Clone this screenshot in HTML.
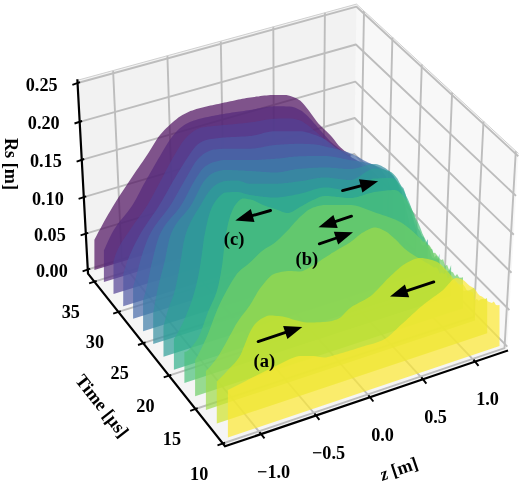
<!DOCTYPE html>
<html lang="en"><head><meta charset="utf-8"><title>Rs vs z and time</title>
<style>html,body{margin:0;padding:0;background:#fff}body{width:520px;height:481px;overflow:hidden}</style></head>
<body>
<svg width="520" height="481" viewBox="0 0 520 481" style="display:block" font-family="'Liberation Serif', 'DejaVu Serif', serif" font-size="18.2px" fill="#000">
<rect width="520" height="481" fill="#fff"/>
<polygon points="507.0,350.8 353.6,192.8 356.5,4.1 518.5,153.5" fill="#f2f2f2" fill-opacity="0.55"/>
<polygon points="88.0,273.6 353.6,192.8 356.5,4.1 77.4,80.3" fill="#e6e6e6" fill-opacity="0.5"/>
<polygon points="225.0,446.3 507.0,350.8 353.6,192.8 88.0,273.6" fill="#ececec" fill-opacity="0.5"/>
<g fill="none" stroke="#bdbdbd" stroke-width="1.9" stroke-linejoin="round">
<polyline points="261.1,434.1 121.9,263.3 113.1,70.6"/>
<polyline points="316.0,415.5 173.5,247.6 167.4,55.7"/>
<polyline points="370.0,397.2 224.3,232.1 220.8,41.2"/>
<polyline points="423.0,379.3 274.2,216.9 273.3,26.8"/>
<polyline points="475.1,361.6 323.4,202.0 324.9,12.7"/>
<polyline points="222.7,443.5 504.5,348.2 515.8,151.1"/>
<polyline points="195.4,409.0 473.9,316.8 483.5,121.2"/>
<polyline points="168.9,375.6 444.3,286.2 452.1,92.3"/>
<polyline points="143.2,343.2 415.6,256.7 421.8,64.3"/>
<polyline points="118.4,311.9 387.7,228.0 392.4,37.2"/>
<polyline points="94.3,281.6 360.7,200.1 364.0,11.0"/>
<polyline points="87.8,269.5 353.6,188.9 507.3,346.7"/>
<polyline points="85.8,233.7 354.2,153.8 509.4,310.1"/>
<polyline points="83.8,197.1 354.7,118.0 511.5,272.8"/>
<polyline points="81.8,159.8 355.3,81.6 513.8,234.7"/>
<polyline points="79.7,121.8 355.9,44.5 516.0,195.9"/>
<polyline points="77.6,83.0 356.5,6.7 518.3,156.2"/>
</g>
<g fill="none" stroke="#d0d0d0" stroke-width="1">
<polyline points="77.4,80.3 356.5,4.1 518.5,153.5"/>
</g>
<g fill-opacity="0.70" stroke="none">
<polygon points="94.4,270.0 94.4,239.7 96.4,235.9 98.4,232.1 100.4,228.4 102.4,224.7 104.4,221.1 106.4,217.6 108.4,214.1 110.4,210.7 112.4,207.3 114.4,204.0 116.4,200.8 118.4,197.6 120.4,194.5 122.4,191.5 124.4,188.4 126.4,185.5 128.4,182.5 130.4,179.5 132.4,176.5 134.4,173.5 136.4,170.6 138.4,167.7 140.4,164.8 142.4,161.9 144.4,158.9 146.4,156.0 148.4,152.9 150.4,149.7 152.4,146.4 154.4,143.2 156.4,140.0 158.4,137.1 160.4,134.6 162.4,132.2 164.4,130.1 166.4,128.1 168.4,126.2 170.4,124.3 172.4,122.5 174.4,120.8 176.4,119.2 178.4,117.6 180.4,116.3 182.4,115.1 184.4,113.9 186.4,112.9 188.4,112.0 190.4,111.1 192.4,110.4 194.4,109.7 196.4,109.1 198.4,108.6 200.4,108.0 202.4,107.5 204.4,107.0 206.4,106.5 208.4,106.1 210.4,105.6 212.4,105.2 214.4,104.7 216.4,104.3 218.4,103.9 220.4,103.5 222.4,103.1 224.4,102.6 226.4,102.2 228.4,101.8 230.4,101.3 232.4,100.9 234.4,100.4 236.4,100.0 238.4,99.6 240.4,99.2 242.4,98.8 244.4,98.4 246.4,98.0 248.4,97.7 250.4,97.5 252.4,97.2 254.4,96.9 256.4,96.6 258.4,96.4 260.4,96.1 262.4,95.8 264.4,95.6 266.4,95.4 268.4,95.3 270.4,95.1 272.4,95.0 274.4,95.0 276.4,95.0 278.4,95.0 280.4,95.0 282.4,95.0 284.4,95.0 286.4,95.1 288.4,95.5 290.4,96.1 292.4,96.7 294.4,97.4 296.4,98.3 298.4,99.4 300.4,100.8 302.4,102.7 304.4,105.0 306.4,107.4 308.4,110.0 310.4,112.8 312.4,115.5 314.4,118.3 316.4,121.0 318.4,123.4 320.4,125.5 322.4,127.5 324.4,129.4 326.4,131.3 328.4,133.3 330.4,135.3 332.4,137.4 334.4,140.0 336.4,142.7 338.4,145.3 340.4,147.3 342.4,149.1 344.4,150.7 346.4,152.1 348.4,153.3 350.4,154.2 350.5,154.2 350.5,192.2" fill="#4e1060"/>
<polygon points="103.9,282.0 103.9,250.5 105.9,245.9 107.9,241.4 109.9,237.2 111.9,233.3 113.9,229.8 115.9,226.7 117.9,223.8 119.9,221.2 121.9,218.8 123.9,216.4 125.9,214.0 127.9,211.5 129.9,208.8 131.9,206.0 133.9,202.8 135.9,199.3 137.9,195.5 139.9,191.7 141.9,187.8 143.9,184.1 145.9,180.4 147.9,176.9 149.9,173.4 151.9,169.9 153.9,166.4 155.9,163.0 157.9,159.6 159.9,156.2 161.9,152.8 163.9,149.3 165.9,145.9 167.9,142.7 169.9,139.7 171.9,137.1 173.9,134.6 175.9,132.2 177.9,130.1 179.9,128.2 181.9,126.7 183.9,125.3 185.9,124.1 187.9,123.0 189.9,122.1 191.9,121.2 193.9,120.5 195.9,119.9 197.9,119.3 199.9,118.7 201.9,118.2 203.9,117.8 205.9,117.3 207.9,116.9 209.9,116.5 211.9,116.1 213.9,115.7 215.9,115.3 217.9,115.0 219.9,114.6 221.9,114.3 223.9,113.9 225.9,113.6 227.9,113.3 229.9,113.0 231.9,112.6 233.9,112.3 235.9,112.1 237.9,111.8 239.9,111.5 241.9,111.2 243.9,110.9 245.9,110.6 247.9,110.3 249.9,110.0 251.9,109.7 253.9,109.3 255.9,109.0 257.9,108.6 259.9,108.2 261.9,107.8 263.9,107.4 265.9,107.1 267.9,106.8 269.9,106.5 271.9,106.4 273.9,106.3 275.9,106.3 277.9,106.3 279.9,106.3 281.9,106.3 283.9,106.3 285.9,106.4 287.9,106.4 289.9,106.5 291.9,106.7 293.9,107.3 295.9,108.0 297.9,109.0 299.9,109.9 301.9,111.1 303.9,112.7 305.9,114.5 307.9,116.3 309.9,118.4 311.9,120.6 313.9,122.9 315.9,125.1 317.9,127.4 319.9,129.7 321.9,132.0 323.9,134.3 325.9,136.6 327.9,138.8 329.9,140.9 331.9,142.7 333.9,144.5 335.9,146.1 337.9,147.7 339.9,149.3 341.9,150.8 343.9,152.2 345.9,153.6 347.9,155.0 349.9,156.3 351.9,157.7 353.9,158.9 355.9,160.2 357.9,161.4 359.9,162.5 361.1,163.2 361.1,203.2" fill="#54297c"/>
<polygon points="113.5,294.0 113.5,261.5 115.5,254.7 117.5,250.1 119.5,246.1 121.5,242.6 123.5,239.5 125.5,236.6 127.5,233.7 129.5,230.8 131.5,227.7 133.5,224.8 135.5,222.0 137.5,219.3 139.5,216.6 141.5,213.9 143.5,211.1 145.5,208.1 147.5,205.0 149.5,201.6 151.5,198.1 153.5,194.3 155.5,190.5 157.5,186.7 159.5,182.9 161.5,179.2 163.5,175.4 165.5,171.6 167.5,167.8 169.5,164.0 171.5,160.3 173.5,156.8 175.5,153.5 177.5,150.0 179.5,146.7 181.5,143.6 183.5,140.8 185.5,138.4 187.5,136.3 189.5,134.4 191.5,132.7 193.5,131.3 195.5,130.1 197.5,129.1 199.5,128.2 201.5,127.6 203.5,127.2 205.5,126.9 207.5,126.6 209.5,126.4 211.5,126.2 213.5,126.0 215.5,125.8 217.5,125.7 219.5,125.5 221.5,125.3 223.5,125.1 225.5,124.9 227.5,124.7 229.5,124.6 231.5,124.4 233.5,124.2 235.5,124.0 237.5,123.8 239.5,123.6 241.5,123.4 243.5,123.2 245.5,123.0 247.5,122.8 249.5,122.6 251.5,122.3 253.5,122.0 255.5,121.7 257.5,121.3 259.5,120.9 261.5,120.5 263.5,120.2 265.5,119.8 267.5,119.5 269.5,119.2 271.5,119.0 273.5,118.8 275.5,118.7 277.5,118.7 279.5,118.6 281.5,118.6 283.5,118.6 285.5,118.5 287.5,118.5 289.5,118.5 291.5,118.6 293.5,118.8 295.5,119.2 297.5,119.8 299.5,120.3 301.5,121.1 303.5,122.3 305.5,123.7 307.5,125.1 309.5,126.6 311.5,128.2 313.5,129.9 315.5,131.6 317.5,133.3 319.5,135.0 321.5,136.8 323.5,138.6 325.5,140.5 327.5,142.5 329.5,144.7 331.5,146.8 333.5,148.7 335.5,150.4 337.5,151.8 339.5,153.1 341.5,154.2 343.5,155.4 345.5,156.4 347.5,157.6 349.5,158.7 351.5,159.9 353.5,161.1 355.5,162.3 357.5,163.5 359.5,164.7 361.5,166.0 363.5,167.2 365.5,168.4 367.5,169.6 369.5,170.8 371.5,172.1 371.9,172.3 371.9,214.3" fill="#534194"/>
<polygon points="123.2,306.3 123.3,274.0 125.3,267.2 127.3,261.3 129.3,256.3 131.3,251.7 133.3,247.3 135.3,243.3 137.3,239.5 139.3,235.8 141.3,232.3 143.3,229.0 145.3,225.9 147.3,222.9 149.3,220.0 151.3,217.2 153.3,214.3 155.3,211.4 157.3,208.4 159.3,205.2 161.3,201.9 163.3,198.5 165.3,194.9 167.3,191.4 169.3,187.8 171.3,184.3 173.3,180.8 175.3,177.5 177.3,174.1 179.3,170.8 181.3,167.5 183.3,164.3 185.3,161.1 187.3,158.1 189.3,155.1 191.3,152.1 193.3,149.2 195.3,146.7 197.3,144.8 199.3,143.3 201.3,142.0 203.3,141.0 205.3,140.2 207.3,139.7 209.3,139.3 211.3,139.0 213.3,138.7 215.3,138.4 217.3,138.2 219.3,138.0 221.3,137.8 223.3,137.6 225.3,137.5 227.3,137.3 229.3,137.2 231.3,137.1 233.3,137.0 235.3,136.9 237.3,136.8 239.3,136.7 241.3,136.6 243.3,136.5 245.3,136.4 247.3,136.2 249.3,136.1 251.3,135.9 253.3,135.6 255.3,135.2 257.3,134.7 259.3,134.2 261.3,133.7 263.3,133.1 265.3,132.6 267.3,132.2 269.3,131.8 271.3,131.5 273.3,131.3 275.3,131.2 277.3,131.2 279.3,131.2 281.3,131.2 283.3,131.2 285.3,131.2 287.3,131.2 289.3,131.2 291.3,131.2 293.3,131.2 295.3,131.2 297.3,131.2 299.3,131.2 301.3,131.3 303.3,131.6 305.3,132.0 307.3,132.5 309.3,133.1 311.3,133.8 313.3,134.4 315.3,135.1 317.3,135.8 319.3,136.7 321.3,137.6 323.3,138.6 325.3,139.6 327.3,140.9 329.3,142.4 331.3,144.0 333.3,145.7 335.3,147.2 337.3,148.6 339.3,150.1 341.3,151.5 343.3,152.9 345.3,154.2 347.3,155.3 349.3,156.3 351.3,157.3 353.3,158.3 355.3,159.3 357.3,160.4 359.3,161.5 361.3,162.8 363.3,164.2 365.3,165.7 367.3,167.2 369.3,168.8 371.3,170.5 373.3,172.2 375.3,174.1 377.3,175.9 379.3,177.9 381.3,179.9 382.8,181.5 382.8,225.5" fill="#4e57a3"/>
<polygon points="133.1,318.7 133.1,287.0 135.1,280.1 137.1,272.9 139.1,265.2 141.1,257.9 143.1,251.6 145.1,245.8 147.1,240.5 149.1,236.0 151.1,232.2 153.1,228.8 155.1,225.7 157.1,222.9 159.1,220.3 161.1,217.8 163.1,215.3 165.1,212.7 167.1,210.1 169.1,207.2 171.1,204.2 173.1,200.9 175.1,197.4 177.1,193.9 179.1,190.3 181.1,186.7 183.1,183.2 185.1,179.8 187.1,176.3 189.1,172.7 191.1,169.2 193.1,165.7 195.1,162.6 197.1,160.0 199.1,157.8 201.1,156.0 203.1,154.3 205.1,153.0 207.1,151.9 209.1,151.0 211.1,150.2 213.1,149.6 215.1,149.4 217.1,149.2 219.1,149.0 221.1,148.9 223.1,148.8 225.1,148.8 227.1,148.8 229.1,148.8 231.1,148.8 233.1,148.8 235.1,148.8 237.1,148.8 239.1,148.8 241.1,148.8 243.1,148.8 245.1,148.8 247.1,148.8 249.1,148.8 251.1,148.7 253.1,148.6 255.1,148.4 257.1,148.1 259.1,147.8 261.1,147.4 263.1,147.0 265.1,146.6 267.1,146.2 269.1,145.8 271.1,145.5 273.1,145.2 275.1,145.0 277.1,144.8 279.1,144.7 281.1,144.5 283.1,144.4 285.1,144.3 287.1,144.2 289.1,144.1 291.1,144.0 293.1,143.9 295.1,143.8 297.1,143.8 299.1,143.8 301.1,143.8 303.1,143.8 305.1,143.9 307.1,143.9 309.1,144.1 311.1,144.2 313.1,144.3 315.1,144.5 317.1,144.8 319.1,145.1 321.1,145.6 323.1,146.1 325.1,146.5 327.1,147.0 329.1,147.4 331.1,147.8 333.1,148.3 335.1,148.8 337.1,149.3 339.1,149.8 341.1,150.3 343.1,150.8 345.1,151.4 347.1,152.0 349.1,152.7 351.1,153.4 353.1,154.4 355.1,155.4 357.1,156.5 359.1,157.6 361.1,158.8 363.1,160.0 365.1,161.1 367.1,162.1 369.1,163.0 371.1,163.8 373.1,164.8 375.1,165.8 377.1,166.9 379.1,168.3 381.1,170.0 383.1,172.4 385.1,175.3 387.1,178.8 389.1,182.6 391.1,186.8 393.1,191.3 393.8,192.9 393.8,236.9" fill="#466aa8"/>
<polygon points="143.1,331.2 143.1,300.0 145.1,293.3 147.1,285.2 149.1,275.5 151.1,265.8 153.1,257.4 155.1,249.3 157.1,241.9 159.1,236.1 161.1,231.9 163.1,228.3 165.1,225.2 167.1,222.5 169.1,220.0 171.1,217.7 173.1,215.5 175.1,213.2 177.1,210.8 179.1,208.2 181.1,205.2 183.1,201.9 185.1,198.2 187.1,194.4 189.1,190.5 191.1,186.7 193.1,183.1 195.1,179.8 197.1,176.6 199.1,173.5 201.1,170.6 203.1,168.3 205.1,166.6 207.1,165.2 209.1,164.0 211.1,163.0 213.1,162.3 215.1,161.7 217.1,161.2 219.1,160.7 221.1,160.3 223.1,160.1 225.1,160.0 227.1,160.0 229.1,160.0 231.1,160.0 233.1,160.0 235.1,160.0 237.1,160.0 239.1,160.0 241.1,160.0 243.1,160.0 245.1,160.0 247.1,160.0 249.1,160.0 251.1,160.0 253.1,160.0 255.1,159.9 257.1,159.9 259.1,159.8 261.1,159.7 263.1,159.5 265.1,159.4 267.1,159.3 269.1,159.2 271.1,159.0 273.1,158.9 275.1,158.7 277.1,158.6 279.1,158.4 281.1,158.2 283.1,157.9 285.1,157.7 287.1,157.4 289.1,157.1 291.1,156.9 293.1,156.7 295.1,156.5 297.1,156.4 299.1,156.3 301.1,156.2 303.1,156.2 305.1,156.2 307.1,156.1 309.1,156.1 311.1,156.1 313.1,156.1 315.1,156.0 317.1,156.0 319.1,156.0 321.1,156.0 323.1,156.0 325.1,156.0 327.1,156.1 329.1,156.2 331.1,156.4 333.1,156.7 335.1,157.0 337.1,157.4 339.1,157.8 341.1,158.2 343.1,158.7 345.1,159.1 347.1,159.5 349.1,159.9 351.1,160.2 353.1,160.5 355.1,160.8 357.1,161.1 359.1,161.4 361.1,161.7 363.1,162.1 365.1,162.5 367.1,163.0 369.1,163.5 371.1,164.1 373.1,164.8 375.1,165.5 377.1,166.3 379.1,167.1 381.1,168.0 383.1,168.9 385.1,170.0 387.1,171.2 389.1,172.5 391.1,174.2 393.1,176.1 395.1,179.0 397.1,183.0 399.1,187.9 401.1,193.7 403.1,200.1 405.0,206.4 405.0,248.4" fill="#3d7ca7"/>
<polygon points="153.2,343.9 153.2,313.0 155.2,301.5 157.2,291.2 159.2,282.4 161.2,274.6 163.2,267.1 165.2,258.9 167.2,248.8 169.2,239.2 171.2,233.2 173.2,229.0 175.2,225.5 177.2,222.5 179.2,219.8 181.2,217.5 183.2,215.2 185.2,213.0 187.2,210.6 189.2,208.0 191.2,205.0 193.2,201.5 195.2,197.6 197.2,193.5 199.2,189.4 201.2,185.6 203.2,182.3 205.2,179.7 207.2,177.5 209.2,175.5 211.2,173.9 213.2,172.9 215.2,172.1 217.2,171.4 219.2,170.8 221.2,170.4 223.2,170.1 225.2,170.0 227.2,170.0 229.2,170.0 231.2,170.1 233.2,170.2 235.2,170.2 237.2,170.3 239.2,170.4 241.2,170.5 243.2,170.6 245.2,170.8 247.2,170.9 249.2,171.0 251.2,171.1 253.2,171.2 255.2,171.3 257.2,171.5 259.2,171.6 261.2,171.8 263.2,172.0 265.2,172.1 267.2,172.2 269.2,172.3 271.2,172.4 273.2,172.5 275.2,172.5 277.2,172.4 279.2,172.3 281.2,172.0 283.2,171.7 285.2,171.3 287.2,170.9 289.2,170.5 291.2,170.1 293.2,169.7 295.2,169.3 297.2,169.0 299.2,168.8 301.2,168.7 303.2,168.5 305.2,168.4 307.2,168.2 309.2,168.1 311.2,168.0 313.2,167.8 315.2,167.7 317.2,167.7 319.2,167.6 321.2,167.5 323.2,167.5 325.2,167.5 327.2,167.5 329.2,167.6 331.2,167.7 333.2,167.9 335.2,168.0 337.2,168.2 339.2,168.4 341.2,168.6 343.2,168.7 345.2,168.9 347.2,168.9 349.2,169.0 351.2,169.0 353.2,168.8 355.2,168.4 357.2,168.0 359.2,167.5 361.2,166.9 363.2,166.3 365.2,165.7 367.2,165.1 369.2,164.7 371.2,164.3 373.2,164.1 375.2,164.0 377.2,164.3 379.2,164.9 381.2,165.8 383.2,166.9 385.2,168.1 387.2,169.5 389.2,171.0 391.2,172.9 393.2,175.4 395.2,178.7 397.2,181.5 399.2,185.4 401.2,189.7 403.2,198.5 405.2,205.8 407.2,213.0 409.2,222.1 411.2,232.9 413.2,233.1 415.2,231.3 416.3,230.1 416.3,260.1" fill="#348ea0"/>
<polygon points="163.5,356.7 163.5,326.0 165.5,318.5 167.5,311.6 169.5,305.6 171.5,300.4 173.5,295.0 175.5,288.0 177.5,278.6 179.5,267.7 181.5,255.4 183.5,242.5 185.5,234.8 187.5,229.1 189.5,224.3 191.5,220.2 193.5,216.5 195.5,213.3 197.5,210.1 199.5,206.9 201.5,203.4 203.5,199.9 205.5,196.5 207.5,193.4 209.5,190.7 211.5,188.5 213.5,186.6 215.5,185.0 217.5,183.8 219.5,182.8 221.5,181.9 223.5,181.2 225.5,181.0 227.5,180.8 229.5,180.7 231.5,180.6 233.5,180.5 235.5,180.5 237.5,180.5 239.5,180.8 241.5,181.4 243.5,182.1 245.5,182.9 247.5,183.4 249.5,183.7 251.5,183.8 253.5,183.8 255.5,183.8 257.5,183.8 259.5,183.8 261.5,183.8 263.5,183.8 265.5,183.8 267.5,183.8 269.5,183.8 271.5,183.8 273.5,183.8 275.5,183.7 277.5,183.7 279.5,183.6 281.5,183.5 283.5,183.3 285.5,183.1 287.5,182.9 289.5,182.6 291.5,182.4 293.5,182.1 295.5,181.8 297.5,181.6 299.5,181.3 301.5,181.1 303.5,180.7 305.5,180.4 307.5,180.0 309.5,179.6 311.5,179.2 313.5,178.8 315.5,178.4 317.5,178.1 319.5,177.9 321.5,177.6 323.5,177.5 325.5,177.5 327.5,177.6 329.5,177.7 331.5,177.9 333.5,178.2 335.5,178.5 337.5,178.8 339.5,179.0 341.5,179.3 343.5,179.6 345.5,179.8 347.5,179.9 349.5,180.0 351.5,179.9 353.5,179.4 355.5,178.6 357.5,177.5 359.5,176.3 361.5,174.9 363.5,173.6 365.5,172.2 367.5,171.0 369.5,169.9 371.5,169.1 373.5,168.6 375.5,168.5 377.5,168.6 379.5,168.8 381.5,169.1 383.5,169.6 385.5,170.1 387.5,170.7 389.5,171.3 391.5,172.3 393.5,174.0 395.5,176.2 397.5,178.7 399.5,182.7 401.5,186.2 403.5,188.3 405.5,193.9 407.5,202.0 409.5,206.4 411.5,212.4 413.5,219.8 415.5,226.5 417.5,234.4 419.5,237.4 421.5,244.8 423.5,245.5 425.5,244.7 427.5,239.2 427.8,239.9 427.8,271.9" fill="#2d9e97"/>
<polygon points="173.9,369.8 173.9,339.0 175.9,336.0 177.9,332.6 179.9,328.8 181.9,324.8 183.9,320.5 185.9,315.9 187.9,311.1 189.9,306.0 191.9,300.2 193.9,293.8 195.9,286.6 197.9,277.9 199.9,267.5 201.9,253.7 203.9,238.6 205.9,228.3 207.9,219.3 209.9,212.2 211.9,207.2 213.9,203.5 215.9,200.5 217.9,198.1 219.9,196.1 221.9,194.2 223.9,192.8 225.9,192.4 227.9,192.3 229.9,192.2 231.9,192.1 233.9,192.0 235.9,192.0 237.9,192.0 239.9,192.3 241.9,192.8 243.9,193.4 245.9,194.0 247.9,194.6 249.9,195.0 251.9,195.3 253.9,195.6 255.9,195.9 257.9,196.1 259.9,196.4 261.9,196.6 263.9,196.9 265.9,197.1 267.9,197.2 269.9,197.4 271.9,197.4 273.9,197.5 275.9,197.5 277.9,197.4 279.9,197.3 281.9,197.1 283.9,196.8 285.9,196.5 287.9,196.1 289.9,195.8 291.9,195.4 293.9,195.0 295.9,194.6 297.9,194.2 299.9,193.8 301.9,193.3 303.9,192.8 305.9,192.2 307.9,191.6 309.9,190.9 311.9,190.2 313.9,189.6 315.9,189.0 317.9,188.5 319.9,188.0 321.9,187.7 323.9,187.5 325.9,187.5 327.9,187.6 329.9,187.8 331.9,188.1 333.9,188.4 335.9,188.7 337.9,189.1 339.9,189.4 341.9,189.8 343.9,190.1 345.9,190.3 347.9,190.4 349.9,190.5 351.9,190.3 353.9,189.7 355.9,188.9 357.9,187.8 359.9,186.5 361.9,185.1 363.9,183.7 365.9,182.3 367.9,181.0 369.9,180.0 371.9,179.1 373.9,178.6 375.9,178.5 377.9,178.4 379.9,178.3 381.9,178.2 383.9,178.1 385.9,178.1 387.9,178.0 389.9,178.0 391.9,178.0 393.9,178.5 395.9,180.1 397.9,182.4 399.9,185.1 401.9,187.9 403.9,191.1 405.9,195.5 407.9,199.3 409.9,203.9 411.9,209.2 413.9,214.7 415.9,221.1 417.9,228.2 419.9,231.1 421.9,236.0 423.9,237.5 425.9,243.5 427.9,246.2 429.9,250.8 431.9,257.6 433.9,258.5 435.9,258.4 437.9,259.2 439.4,253.8 439.4,283.8" fill="#32b08b"/>
<polygon points="184.4,383.0 184.4,352.0 186.4,351.4 188.4,350.2 190.4,348.3 192.4,346.1 194.4,343.5 196.4,340.8 198.4,337.6 200.4,333.1 202.4,327.7 204.4,321.9 206.4,316.2 208.4,311.0 210.4,306.5 212.4,302.3 214.4,297.8 216.4,292.5 218.4,285.5 220.4,275.7 222.4,263.5 224.4,245.6 226.4,231.7 228.4,222.2 230.4,215.2 232.4,210.2 234.4,206.2 236.4,203.5 238.4,201.3 240.4,199.5 242.4,198.6 244.4,198.6 246.4,198.8 248.4,199.2 250.4,199.6 252.4,200.1 254.4,200.8 256.4,201.7 258.4,202.8 260.4,203.8 262.4,204.8 264.4,205.5 266.4,206.2 268.4,206.9 270.4,207.6 272.4,208.2 274.4,208.8 276.4,209.5 278.4,210.3 280.4,211.1 282.4,211.9 284.4,212.5 286.4,212.9 288.4,213.0 290.4,212.6 292.4,211.7 294.4,210.5 296.4,209.2 298.4,207.9 300.4,206.8 302.4,205.7 304.4,204.5 306.4,203.4 308.4,202.2 310.4,201.2 312.4,200.3 314.4,199.4 316.4,198.5 318.4,197.6 320.4,196.8 322.4,196.3 324.4,196.0 326.4,196.0 328.4,196.1 330.4,196.2 332.4,196.4 334.4,196.6 336.4,196.9 338.4,197.1 340.4,197.3 342.4,197.6 344.4,197.7 346.4,197.9 348.4,198.0 350.4,198.0 352.4,197.9 354.4,197.6 356.4,197.2 358.4,196.7 360.4,196.1 362.4,195.5 364.4,194.8 366.4,194.1 368.4,193.5 370.4,193.0 372.4,192.5 374.4,192.1 376.4,191.8 378.4,191.5 380.4,191.2 382.4,191.0 384.4,190.7 386.4,190.5 388.4,190.3 390.4,190.2 392.4,190.1 394.4,190.0 396.4,190.2 398.4,191.3 400.4,193.0 402.4,195.1 404.4,197.4 406.4,199.8 408.4,203.1 410.4,206.8 412.4,210.8 414.4,214.8 416.4,219.5 418.4,223.3 420.4,228.0 422.4,233.5 424.4,237.4 426.4,241.5 428.4,244.4 430.4,248.6 432.4,249.4 434.4,256.9 436.4,255.6 438.4,259.0 440.4,265.6 442.4,267.1 444.4,270.4 446.4,271.2 448.4,271.4 450.4,267.2 451.1,264.9 451.1,295.9" fill="#4bc07b"/>
<polygon points="195.1,396.3 195.1,360.3 197.1,356.7 199.1,352.9 201.1,349.0 203.1,344.8 205.1,340.4 207.1,335.9 209.1,331.1 211.1,325.8 213.1,320.3 215.1,314.9 217.1,309.9 219.1,305.5 221.1,301.2 223.1,297.2 225.1,293.4 227.1,289.7 229.1,286.2 231.1,282.8 233.1,279.4 235.1,276.4 237.1,273.6 239.1,271.4 241.1,269.5 243.1,267.9 245.1,266.4 247.1,264.9 249.1,263.3 251.1,261.5 253.1,259.6 255.1,257.5 257.1,255.5 259.1,253.5 261.1,251.7 263.1,250.2 265.1,248.8 267.1,247.6 269.1,246.4 271.1,245.2 273.1,243.9 275.1,242.4 277.1,240.8 279.1,239.0 281.1,237.0 283.1,235.0 285.1,233.0 287.1,230.9 289.1,228.9 291.1,226.6 293.1,224.3 295.1,222.1 297.1,219.9 299.1,217.8 301.1,216.0 303.1,214.2 305.1,212.5 307.1,210.8 309.1,209.5 311.1,208.4 313.1,207.6 315.1,206.9 317.1,206.3 319.1,205.8 321.1,205.4 323.1,205.1 325.1,205.0 327.1,205.0 329.1,205.0 331.1,205.0 333.1,205.0 335.1,205.0 337.1,205.0 339.1,205.0 341.1,205.0 343.1,205.0 345.1,205.0 347.1,205.0 349.1,205.0 351.1,205.0 353.1,205.2 355.1,205.5 357.1,206.0 359.1,206.5 361.1,207.2 363.1,207.9 365.1,208.7 367.1,209.5 369.1,210.3 371.1,211.1 373.1,211.8 375.1,212.5 377.1,213.2 379.1,213.8 381.1,214.5 383.1,215.2 385.1,215.8 387.1,216.5 389.1,217.2 391.1,218.0 393.1,218.8 395.1,219.6 397.1,220.6 399.1,221.5 401.1,222.6 403.1,223.8 405.1,225.2 407.1,226.7 409.1,228.3 411.1,230.0 413.1,231.8 415.1,233.6 417.1,235.4 419.1,237.2 421.1,239.2 423.1,241.7 425.1,241.6 427.1,245.4 429.1,245.0 431.1,247.8 433.1,253.1 435.1,252.8 437.1,255.2 439.1,258.1 441.1,260.1 443.1,259.2 445.1,265.9 447.1,264.8 449.1,270.2 451.1,271.6 453.1,272.6 455.1,276.2 457.1,274.0 459.1,277.6 461.1,277.7 463.0,277.2 463.0,308.2" fill="#6fce66"/>
<polygon points="205.9,409.9 205.9,370.9 207.9,369.0 209.9,366.9 211.9,364.6 213.9,362.1 215.9,359.5 217.9,356.7 219.9,353.6 221.9,350.1 223.9,346.5 225.9,342.9 227.9,339.3 229.9,335.6 231.9,331.9 233.9,328.2 235.9,324.6 237.9,321.4 239.9,318.5 241.9,315.8 243.9,313.2 245.9,310.7 247.9,308.0 249.9,305.2 251.9,302.0 253.9,298.4 255.9,294.9 257.9,291.5 259.9,288.6 261.9,286.1 263.9,283.5 265.9,281.0 267.9,278.7 269.9,276.7 271.9,275.1 273.9,273.9 275.9,273.2 277.9,272.7 279.9,272.2 281.9,271.8 283.9,271.5 285.9,271.2 287.9,271.1 289.9,271.0 291.9,271.0 293.9,271.2 295.9,271.3 297.9,271.4 299.9,271.5 301.9,271.3 303.9,270.6 305.9,269.6 307.9,268.4 309.9,267.2 311.9,266.1 313.9,264.9 315.9,263.7 317.9,262.3 319.9,261.0 321.9,259.6 323.9,258.2 325.9,256.9 327.9,255.7 329.9,254.4 331.9,253.1 333.9,251.9 335.9,250.7 337.9,249.5 339.9,248.3 341.9,247.2 343.9,246.1 345.9,245.0 347.9,243.8 349.9,242.6 351.9,241.1 353.9,239.4 355.9,237.7 357.9,235.9 359.9,234.4 361.9,233.1 363.9,231.9 365.9,230.8 367.9,229.7 369.9,228.7 371.9,228.0 373.9,227.6 375.9,227.5 377.9,227.9 379.9,228.6 381.9,229.5 383.9,230.5 385.9,231.5 387.9,232.8 389.9,234.4 391.9,236.2 393.9,238.0 395.9,239.8 397.9,241.8 399.9,244.0 401.9,246.1 403.9,248.0 405.9,249.7 407.9,251.2 409.9,252.7 411.9,254.0 413.9,255.3 415.9,256.6 417.9,257.8 419.9,259.0 421.9,260.1 423.9,261.3 425.9,262.4 427.9,263.5 429.9,264.7 431.9,265.9 433.9,267.7 435.9,267.0 437.9,268.8 439.9,273.9 441.9,272.3 443.9,274.2 445.9,272.2 447.9,278.8 449.9,275.7 451.9,280.4 453.9,283.8 455.9,281.4 457.9,284.9 459.9,287.7 461.9,288.7 463.9,291.2 465.9,290.6 467.9,290.5 469.9,289.9 471.9,289.1 473.9,287.8 475.0,290.6 475.0,320.6" fill="#9dda4a"/>
<polygon points="216.8,423.6 216.8,381.6 218.8,379.6 220.8,377.6 222.8,375.5 224.8,373.4 226.8,371.3 228.8,369.1 230.8,367.0 232.8,365.0 234.8,362.9 236.8,360.5 238.8,357.8 240.8,354.4 242.8,349.6 244.8,344.4 246.8,339.4 248.8,334.4 250.8,330.4 252.8,326.9 254.8,324.2 256.8,322.2 258.8,320.5 260.8,319.1 262.8,318.1 264.8,317.0 266.8,316.1 268.8,315.6 270.8,315.5 272.8,315.6 274.8,315.7 276.8,315.9 278.8,316.1 280.8,316.3 282.8,316.5 284.8,316.9 286.8,317.5 288.8,318.1 290.8,318.8 292.8,319.4 294.8,320.0 296.8,320.5 298.8,321.0 300.8,321.5 302.8,322.0 304.8,322.3 306.8,322.5 308.8,322.5 310.8,322.5 312.8,322.4 314.8,322.4 316.8,322.3 318.8,322.3 320.8,322.2 322.8,322.1 324.8,322.0 326.8,321.8 328.8,321.6 330.8,321.2 332.8,320.7 334.8,320.1 336.8,319.4 338.8,318.6 340.8,317.2 342.8,315.3 344.8,313.1 346.8,310.9 348.8,308.9 350.8,307.4 352.8,306.1 354.8,304.9 356.8,303.9 358.8,302.8 360.8,301.8 362.8,300.8 364.8,299.8 366.8,298.6 368.8,297.3 370.8,295.9 372.8,294.2 374.8,292.3 376.8,290.3 378.8,288.2 380.8,286.1 382.8,283.9 384.8,281.7 386.8,279.6 388.8,277.7 390.8,275.8 392.8,274.0 394.8,272.1 396.8,270.3 398.8,268.5 400.8,266.8 402.8,265.3 404.8,263.9 406.8,262.8 408.8,261.8 410.8,260.8 412.8,259.8 414.8,259.0 416.8,258.4 418.8,258.1 420.8,258.0 422.8,258.1 424.8,258.4 426.8,258.7 428.8,259.2 430.8,259.7 432.8,260.3 434.8,261.0 436.8,261.7 438.8,262.9 440.8,264.5 442.8,266.4 444.8,268.4 446.8,270.4 448.8,272.7 450.8,275.2 452.8,277.7 454.8,279.8 456.8,282.2 458.8,284.2 460.8,284.8 462.8,284.0 464.8,286.7 466.8,290.2 468.8,291.5 470.8,291.4 472.8,292.6 474.8,300.4 476.8,299.1 478.8,300.7 480.8,299.3 482.8,299.1 484.8,299.2 486.8,298.0 487.2,300.2 487.2,333.2" fill="#cfe22b"/>
<polygon points="227.9,437.5 227.9,390.0 229.9,389.0 231.9,388.0 233.9,386.9 235.9,385.9 237.9,384.9 239.9,383.9 241.9,382.9 243.9,381.9 245.9,380.9 247.9,379.8 249.9,378.8 251.9,377.8 253.9,376.8 255.9,375.8 257.9,374.8 259.9,373.8 261.9,372.8 263.9,371.8 265.9,370.8 267.9,369.8 269.9,368.8 271.9,367.9 273.9,366.9 275.9,366.0 277.9,365.0 279.9,364.0 281.9,363.0 283.9,361.9 285.9,360.9 287.9,359.9 289.9,359.0 291.9,358.2 293.9,357.4 295.9,356.7 297.9,356.2 299.9,356.0 301.9,356.0 303.9,356.0 305.9,356.0 307.9,356.0 309.9,356.0 311.9,356.0 313.9,356.1 315.9,356.3 317.9,356.7 319.9,357.0 321.9,357.3 323.9,357.5 325.9,357.5 327.9,357.1 329.9,356.6 331.9,356.0 333.9,355.3 335.9,354.7 337.9,354.2 339.9,353.6 341.9,353.0 343.9,352.4 345.9,351.8 347.9,351.2 349.9,350.6 351.9,350.0 353.9,349.4 355.9,348.7 357.9,348.1 359.9,347.5 361.9,346.8 363.9,346.2 365.9,345.6 367.9,345.1 369.9,344.5 371.9,343.9 373.9,343.4 375.9,342.7 377.9,342.1 379.9,341.3 381.9,340.5 383.9,339.5 385.9,338.3 387.9,336.9 389.9,335.3 391.9,333.5 393.9,331.6 395.9,329.7 397.9,327.7 399.9,325.8 401.9,323.9 403.9,322.2 405.9,320.4 407.9,318.6 409.9,316.7 411.9,314.8 413.9,313.0 415.9,311.2 417.9,309.3 419.9,307.6 421.9,305.9 423.9,304.2 425.9,302.7 427.9,301.2 429.9,299.7 431.9,298.3 433.9,296.8 435.9,295.4 437.9,293.9 439.9,292.4 441.9,290.9 443.9,289.2 445.9,287.0 447.9,284.7 449.9,282.4 451.9,280.3 453.9,278.8 455.9,278.0 457.9,278.2 459.9,278.7 461.9,279.5 463.9,280.5 465.9,282.2 467.9,284.2 469.9,286.0 471.9,286.9 473.9,288.3 475.9,290.6 477.9,293.7 479.9,295.7 481.9,296.4 483.9,297.9 485.9,299.5 487.9,301.6 489.9,302.3 491.9,302.9 493.9,301.6 495.9,305.1 497.9,305.3 499.5,304.9 499.5,345.9" fill="#fce832"/>
</g>
<g fill="none" stroke="#000" stroke-width="2.2" stroke-linecap="square">
<polyline points="507.0,350.8 225.0,446.3 88.0,273.6 77.4,80.3"/>
</g>
<g fill="none" stroke="#000" stroke-width="1.9">
<line x1="259.5" y1="432.1" x2="264.5" y2="438.4"/>
<line x1="314.5" y1="413.5" x2="319.4" y2="419.8"/>
<line x1="368.4" y1="395.3" x2="373.4" y2="401.5"/>
<line x1="421.4" y1="377.3" x2="426.4" y2="383.6"/>
<line x1="473.5" y1="359.7" x2="478.5" y2="365.9"/>
<line x1="225.1" y1="442.7" x2="217.5" y2="445.3"/>
<line x1="197.7" y1="408.2" x2="190.2" y2="410.8"/>
<line x1="171.3" y1="374.8" x2="163.7" y2="377.4"/>
<line x1="145.6" y1="342.4" x2="138.0" y2="345.0"/>
<line x1="120.8" y1="311.1" x2="113.2" y2="313.7"/>
<line x1="96.7" y1="280.8" x2="89.1" y2="283.3"/>
<line x1="90.2" y1="268.7" x2="82.6" y2="271.3"/>
<line x1="88.2" y1="232.8" x2="80.6" y2="235.4"/>
<line x1="86.2" y1="196.3" x2="78.6" y2="198.8"/>
<line x1="84.2" y1="159.0" x2="76.6" y2="161.6"/>
<line x1="82.1" y1="121.0" x2="74.5" y2="123.5"/>
<line x1="80.0" y1="82.2" x2="72.4" y2="84.8"/>
</g>
<g text-anchor="middle" font-weight="bold">
<text x="273.6" y="477.7">−1.0</text>
<text x="328.5" y="459.1">−0.5</text>
<text x="382.5" y="440.8">0.0</text>
<text x="435.5" y="422.9">0.5</text>
<text x="487.6" y="405.2">1.0</text>
<text x="199.2" y="479.6">10</text>
<text x="171.9" y="445.1">15</text>
<text x="145.4" y="411.7">20</text>
<text x="119.7" y="379.3">25</text>
<text x="94.9" y="348.0">30</text>
<text x="70.8" y="317.7">35</text>
</g>
<g text-anchor="end" font-weight="bold">
<text x="67.8" y="277.1">0.00</text>
<text x="65.8" y="241.3">0.05</text>
<text x="63.8" y="204.7">0.10</text>
<text x="61.8" y="167.4">0.15</text>
<text x="59.7" y="129.4">0.20</text>
<text x="57.6" y="90.6">0.25</text>
</g>
<text transform="translate(399,469) rotate(-18.7)" text-anchor="middle" y="5.8" font-weight="bold"><tspan font-style="italic">z</tspan> [m]</text>
<text transform="translate(102,406) rotate(51.8)" text-anchor="middle" y="5.8" font-weight="bold">Time [μs]</text>
<text transform="translate(11,164) rotate(90)" text-anchor="middle" y="5.8" font-weight="bold">Rs [m]</text>
<g><line x1="258.1" y1="341.6" x2="287.1" y2="331.9" stroke="#000" stroke-width="2.9" stroke-linecap="round"/><polygon points="302.3,326.9 287.4,339.0 283.1,326.1" fill="#000"/><line x1="433.8" y1="281.9" x2="405.2" y2="291.4" stroke="#000" stroke-width="2.9" stroke-linecap="round"/><polygon points="390.0,296.5 404.9,284.4 409.2,297.3" fill="#000"/><line x1="351.5" y1="216.2" x2="333.7" y2="222.2" stroke="#000" stroke-width="2.9" stroke-linecap="round"/><polygon points="318.5,227.3 333.4,215.1 337.7,228.0" fill="#000"/><line x1="319.3" y1="243.8" x2="337.9" y2="237.5" stroke="#000" stroke-width="2.9" stroke-linecap="round"/><polygon points="353.0,232.3 338.2,244.5 333.8,231.7" fill="#000"/><line x1="270.5" y1="210.5" x2="250.7" y2="216.1" stroke="#000" stroke-width="2.9" stroke-linecap="round"/><polygon points="235.3,220.5 250.8,209.0 254.5,222.1" fill="#000"/><line x1="342.5" y1="190.6" x2="362.6" y2="185.3" stroke="#000" stroke-width="2.9" stroke-linecap="round"/><polygon points="378.1,181.3 362.4,192.4 359.0,179.3" fill="#000"/></g><g text-anchor="middle" font-size="18.5px" font-weight="bold"><text x="264.4" y="366.5">(a)</text><text x="306.9" y="264.6">(b)</text><text x="234.1" y="245">(c)</text></g>
</svg>
</body></html>
